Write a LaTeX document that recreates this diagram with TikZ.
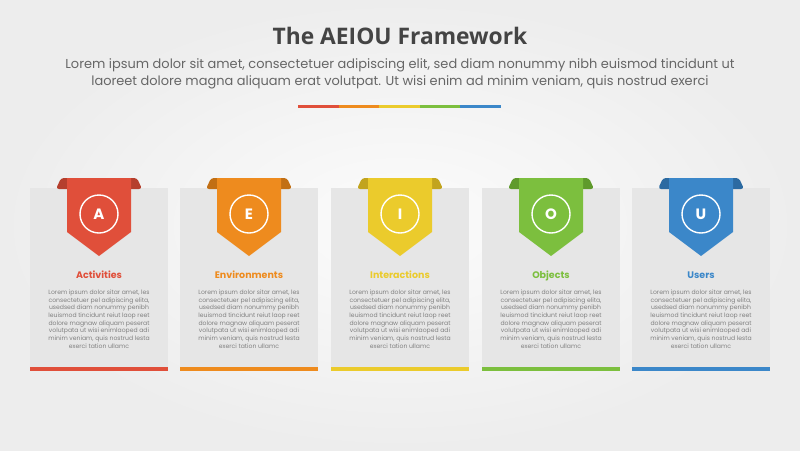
\documentclass[tikz,border=0pt]{standalone}
\usepackage{fontspec}
\setmainfont{Poppins}
\newfontfamily\headfont{Open Sans}
\definecolor{bgout}{HTML}{EDEDED}
\definecolor{bgin}{HTML}{FCFCFC}
\definecolor{cardgray}{HTML}{E6E6E6}
\definecolor{titlegray}{HTML}{444444}
\definecolor{subgray}{HTML}{666666}
\definecolor{bodygray}{HTML}{808080}
\definecolor{cred}{HTML}{E04F3A}
\definecolor{cdred}{HTML}{B53F2D}
\definecolor{corange}{HTML}{EE8B1E}
\definecolor{cdorange}{HTML}{C26F14}
\definecolor{cyellow}{HTML}{EBCB2C}
\definecolor{cdyellow}{HTML}{C2A41E}
\definecolor{cgreen}{HTML}{7CBF3E}
\definecolor{cdgreen}{HTML}{5F9A2C}
\definecolor{cblue}{HTML}{3B87C9}
\definecolor{cdblue}{HTML}{2C6AA1}
\tikzset{
  cardbox/.style={fill=cardgray},
  letterc/.style={circle, draw=white, line width=1.4pt, minimum size=38pt, inner sep=0pt, text=white, font=\bfseries\fontsize{15}{15}\selectfont},
  cardtitle/.style={font=\bfseries\fontsize{9.5}{11}\selectfont, anchor=base},
  cardbody/.style={align=center, text=bodygray, font=\fontsize{6.1}{7.7}\selectfont, inner sep=0pt},
}
\begin{document}
\begin{tikzpicture}[x=1pt,y=-1pt]
\useasboundingbox (0,0) rectangle (800,450);
\shade[inner color=bgin, outer color=bgout] (0,0) rectangle (800,450);
\node[font=\headfont\bfseries\fontsize{22.8}{26}\selectfont, text=titlegray] (title) at (400,36) {The AEIOU Framework};
\node[font=\fontsize{12.95}{16.5}\selectfont, text=subgray, align=center] (sub) at (400,74) {Lorem ipsum dolor sit amet, consectetuer adipiscing elit, sed diam nonummy nibh euismod tincidunt ut\\laoreet dolore magna aliquam erat volutpat. Ut wisi enim ad minim veniam, quis nostrud exerci};
\foreach \c [count=\k from 0] in {cred,corange,cyellow,cgreen,cblue}{
  \fill[\c] (298+40.6*\k,104.5) rectangle (298+40.6*\k+40.6,107.5);
}
\foreach \i/\cx/\main/\dark/\L/\T in {1/99/cred/cdred/A/Activities, 2/249/corange/cdorange/E/Environments, 3/400/cyellow/cdyellow/I/Interactions, 4/551/cgreen/cdgreen/O/Objects, 5/701/cblue/cdblue/U/Users}{
  \fill[cardbox] (\cx-69,188) rectangle (\cx+69,367);
  \fill[\main] (\cx-69,367) rectangle (\cx+69,371);
  \fill[\dark, rounded corners=3] (\cx-43,189) -- (\cx-38,178) -- (\cx+38,178) -- (\cx+43,189) -- cycle;
  \fill[\main] (\cx-32,178) -- (\cx+32,178) -- (\cx+32,232) -- (\cx,256) -- (\cx-32,232) -- cycle;
  \node[letterc] (c\i) at (\cx,214) {\L};
  \node[cardtitle, text=\main] (t\i) at (\cx,278.5) {\T};
  \node[cardbody] (b\i) at (\cx,319) {Lorem ipsum dolor sitar amet, les\\consectetuer pel adipiscing elita,\\usedsed diam nonummy penibh\\leuismod tincidunt reiut laop reet\\dolore magnaw aliquam peserat\\volutpata ut wisi enimlaoped adi\\minim veniam, quis nostrud lesta\\exerci tation ullamc};
}
\end{tikzpicture}
\end{document}
